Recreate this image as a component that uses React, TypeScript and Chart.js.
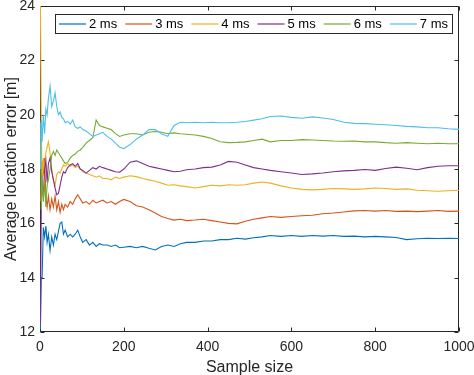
import React, { useEffect, useRef } from "react";
import { Chart, registerables } from "chart.js";

Chart.register(...registerables);

// ---------- data ----------
const samples = [1, 3, 5, 8, 11, 14, 17, 20, 24, 28, 32, 36, 40, 44, 48, 52, 56, 60, 66, 72, 78, 84, 90, 96, 102, 110, 118, 126, 134, 142, 150, 160, 170, 180, 190, 200, 215, 230, 245, 260, 275, 290, 305, 320, 335, 350, 370, 390, 410, 430, 450, 470, 490, 510, 530, 550, 575, 600, 625, 650, 675, 700, 725, 750, 775, 800, 825, 850, 875, 900, 925, 950, 975, 1000];

const ms2 = [12.1, 14.0, 14.0, 15.85, 15.5, 15.9, 15.3, 15.6, 15.0, 15.5, 15.2, 15.6, 15.4, 15.7, 16.0, 16.05, 15.6, 15.75, 15.5, 15.6, 15.5, 15.6, 15.75, 15.5, 15.3, 15.4, 15.2, 15.3, 15.15, 15.25, 15.2, 15.2, 15.15, 15.2, 15.1, 15.12, 15.15, 15.1, 15.15, 15.08, 15.02, 15.15, 15.2, 15.15, 15.25, 15.3, 15.3, 15.35, 15.35, 15.4, 15.4, 15.45, 15.42, 15.47, 15.5, 15.55, 15.52, 15.55, 15.52, 15.55, 15.53, 15.55, 15.52, 15.53, 15.5, 15.52, 15.5, 15.48, 15.4, 15.43, 15.45, 15.44, 15.45, 15.44];

const ms3 = [16.8, 17.5, 18.3, 17.9, 18.4, 17.0, 16.6, 17.0, 16.5, 16.9, 16.6, 17.0, 16.5, 16.8, 16.4, 16.7, 16.5, 16.7, 16.6, 16.8, 16.7, 16.9, 17.05, 16.9, 16.75, 16.8, 16.7, 16.85, 16.75, 16.8, 16.85, 16.75, 16.8, 16.7, 16.8, 16.88, 16.8, 16.65, 16.6, 16.5, 16.38, 16.25, 16.18, 16.12, 16.15, 16.1, 16.12, 16.15, 16.1, 16.05, 16.0, 15.98, 16.08, 16.15, 16.2, 16.25, 16.22, 16.25, 16.28, 16.3, 16.35, 16.38, 16.42, 16.46, 16.47, 16.45, 16.47, 16.44, 16.45, 16.43, 16.45, 16.47, 16.44, 16.45];

const ms4 = [24.0, 19.8, 17.5, 18.4, 17.8, 18.6, 18.8, 19.0, 18.6, 18.0, 17.6, 17.4, 17.8, 17.9, 17.85, 18.0, 18.15, 18.1, 18.2, 18.1, 18.15, 18.05, 18.1, 18.0, 17.9, 17.85, 17.8, 17.75, 17.7, 17.75, 17.65, 17.65, 17.6, 17.7, 17.65, 17.7, 17.75, 17.72, 17.65, 17.6, 17.55, 17.48, 17.4, 17.42, 17.38, 17.35, 17.3, 17.35, 17.4, 17.38, 17.42, 17.4, 17.42, 17.48, 17.52, 17.48, 17.38, 17.3, 17.25, 17.23, 17.25, 17.28, 17.27, 17.25, 17.27, 17.3, 17.28, 17.25, 17.27, 17.22, 17.2, 17.18, 17.2, 17.22];

const ms5 = [12.3, 16.5, 17.5, 17.0, 18.0, 18.3, 17.5, 18.2, 18.4, 17.9, 17.6, 17.3, 17.05, 17.1, 17.4, 17.7, 17.9, 17.85, 18.05, 18.15, 18.2, 18.1, 18.2, 18.0, 17.95, 17.85, 17.95, 18.05, 18.0, 18.1, 18.05, 18.0, 17.95, 17.9, 17.88, 18.0, 18.25, 18.3, 18.2, 18.1, 18.05, 18.0, 17.95, 17.9, 17.92, 17.97, 18.0, 18.05, 18.07, 18.15, 18.28, 18.25, 18.15, 18.05, 18.0, 17.95, 17.9, 17.85, 17.8, 17.82, 17.85, 17.9, 17.93, 17.95, 17.98, 17.95, 18.02, 18.07, 18.03, 17.97, 18.05, 18.1, 18.12, 18.12];

const ms6 = [19.7, 16.5, 17.8, 16.8, 17.5, 16.6, 17.4, 17.6, 18.0, 18.5, 18.65, 18.5, 18.7, 18.6, 18.5, 18.4, 18.3, 18.2, 18.25, 18.4, 18.5, 18.55, 18.65, 18.7, 18.8, 18.95, 19.05, 19.15, 19.8, 19.6, 19.55, 19.5, 19.45, 19.3, 19.2, 19.25, 19.3, 19.3, 19.25, 19.35, 19.38, 19.35, 19.3, 19.33, 19.3, 19.28, 19.25, 19.2, 19.12, 19.0, 18.97, 18.98, 19.0, 19.05, 19.1, 19.0, 19.05, 19.05, 19.08, 19.07, 19.05, 19.03, 19.02, 19.03, 19.0, 19.0, 18.97, 18.95, 18.97, 18.95, 18.93, 18.95, 18.93, 18.93];

const ms7 = [18.0, 19.8, 19.0, 20.0, 19.3, 20.2, 20.0, 20.6, 21.05, 20.3, 20.5, 20.8, 20.3, 20.0, 20.1, 19.9, 19.85, 19.7, 19.75, 19.65, 19.8, 19.55, 19.5, 19.55, 19.45, 19.4, 19.3, 19.2, 19.25, 19.3, 19.35, 19.2, 19.1, 18.95, 18.8, 18.75, 18.9, 19.1, 19.25, 19.45, 19.45, 19.3, 19.2, 19.6, 19.72, 19.7, 19.72, 19.7, 19.72, 19.7, 19.7, 19.72, 19.75, 19.8, 19.85, 19.93, 19.95, 19.9, 19.87, 19.92, 19.88, 19.82, 19.72, 19.68, 19.67, 19.65, 19.63, 19.6, 19.57, 19.55, 19.52, 19.52, 19.48, 19.46];

const seriesLabels = ["2 ms", "3 ms", "4 ms", "5 ms", "6 ms", "7 ms"];
const seriesValues = [ms2, ms3, ms4, ms5, ms6, ms7];
const seriesColors = ["#0072BD", "#D95319", "#EDB120", "#7E2F8E", "#77AC30", "#4DBEEE"];

const xTicks = [0, 200, 400, 600, 800, 1000];
const yTicks = [12, 14, 16, 18, 20, 22, 24];
const xTitle = "Sample size";
const yTitle = "Average location error [m]";

// ---------- style ----------
const FONT = "'Liberation Sans', Arial, Helvetica, sans-serif";
const AXIS_COLOR = "#262626";

const framePlugin = {
  id: "frame",
  beforeDatasetsDraw(chart: any) {
    const { ctx, chartArea: a, scales } = chart;
    ctx.save();
    ctx.strokeStyle = AXIS_COLOR;
    ctx.lineWidth = 1;
    const L = Math.round(a.left) + 0.5;
    const R = Math.round(a.right) - 0.5;
    const T = Math.round(a.top) + 0.5;
    const B = Math.round(a.bottom) - 0.5;
    ctx.beginPath();
    ctx.rect(L, T, R - L, B - T);
    const tl = 4;
    xTicks.forEach((v) => {
      const px = Math.round(scales.x.getPixelForValue(v)) + 0.5;
      ctx.moveTo(px, B);
      ctx.lineTo(px, B - tl);
      ctx.moveTo(px, T);
      ctx.lineTo(px, T + tl);
    });
    yTicks.forEach((v) => {
      const py = Math.round(scales.y.getPixelForValue(v)) + 0.5;
      ctx.moveTo(L, py);
      ctx.lineTo(L + tl, py);
      ctx.moveTo(R, py);
      ctx.lineTo(R - tl, py);
    });
    ctx.stroke();
    ctx.restore();
  },
  afterDraw(chart: any) {
    const { ctx } = chart;
    ctx.save();
    const bx = 55.5, by = 14.5, bw = 397, bh = 19;
    ctx.fillStyle = "#ffffff";
    ctx.fillRect(bx, by, bw, bh);
    ctx.strokeStyle = AXIS_COLOR;
    ctx.lineWidth = 1;
    ctx.strokeRect(bx, by, bw, bh);
    ctx.font = `13px ${FONT}`;
    ctx.textBaseline = "middle";
    ctx.textAlign = "left";
    let x = 59;
    const cy = by + bh / 2;
    seriesLabels.forEach((lab, i) => {
      ctx.strokeStyle = seriesColors[i];
      ctx.lineWidth = 1.2;
      ctx.beginPath();
      ctx.moveTo(x, cy);
      ctx.lineTo(x + 27, cy);
      ctx.stroke();
      ctx.fillStyle = "#000000";
      ctx.fillText(lab, x + 30, cy + 0.5);
      x += 30 + ctx.measureText(lab).width + 8;
    });
    ctx.restore();
  },
};

export default function App() {
  const ref = useRef<HTMLCanvasElement | null>(null);
  useEffect(() => {
    if (!ref.current) return;
    const datasets = seriesLabels.map((label, i) => ({
      label,
      data: samples.map((s, j) => ({ x: s, y: seriesValues[i][j] })),
      borderColor: seriesColors[i],
      backgroundColor: seriesColors[i],
      borderWidth: 1.1,
      pointRadius: 0,
      tension: 0,
      fill: false,
      order: seriesLabels.length - i,
    }));
    const chart = new Chart(ref.current, {
      type: "line",
      data: { datasets },
      options: {
        animation: false,
        responsive: false,
        maintainAspectRatio: false,
        devicePixelRatio: 1,
        layout: { padding: { left: 0, right: 15, top: 6, bottom: 0 } },
        plugins: {
          legend: { display: false },
          tooltip: { enabled: false },
        },
        scales: {
          x: {
            type: "linear",
            min: 0,
            max: 1000,
            afterBuildTicks: (s: any) => {
              s.ticks = xTicks.map((v) => ({ value: v }));
            },
            afterFit: (s: any) => {
              s.height = 43;
              s.paddingLeft = 0;
              s.paddingRight = 0;
            },
            grid: { display: false, drawTicks: false },
            border: { display: false },
            ticks: {
              color: AXIS_COLOR,
              font: { family: FONT, size: 14 },
              padding: 7,
              maxRotation: 0,
              autoSkip: false,
              callback: (v: any) => String(v),
            },
            title: {
              display: true,
              text: xTitle,
              color: AXIS_COLOR,
              font: { family: FONT, size: 16, lineHeight: 1 },
              padding: { top: 0, bottom: -1 },
            },
          },
          y: {
            type: "linear",
            min: 12,
            max: 24,
            afterBuildTicks: (s: any) => {
              s.ticks = yTicks.map((v) => ({ value: v }));
            },
            afterFit: (s: any) => {
              s.width = 40;
              s.paddingTop = 0;
              s.paddingBottom = 0;
            },
            grid: { display: false, drawTicks: false },
            border: { display: false },
            ticks: {
              color: AXIS_COLOR,
              font: { family: FONT, size: 14 },
              padding: 5,
              autoSkip: false,
              callback: (v: any) => String(v),
            },
            title: {
              display: true,
              text: yTitle,
              color: AXIS_COLOR,
              font: { family: FONT, size: 16, lineHeight: 1.2 },
              padding: { top: 2, bottom: 0 },
            },
          },
        },
      },
      plugins: [framePlugin],
    });
    return () => chart.destroy();
  }, []);
  return (
    <div style={{ position: "fixed", left: 0, top: 0, width: 474, height: 375, background: "#fff" }}>
      <canvas ref={ref} width={474} height={375} style={{ width: 474, height: 375 }} />
    </div>
  );
}
